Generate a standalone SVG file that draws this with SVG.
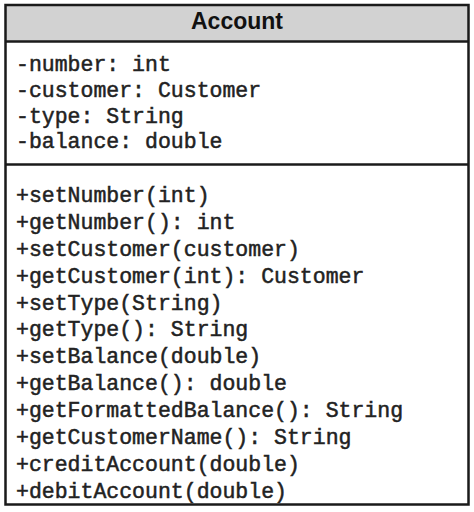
<svg xmlns="http://www.w3.org/2000/svg" width="474" height="512" viewBox="0 0 474 512">
<style>
.box{fill:none;stroke:#1a1a1a;stroke-width:2.5}
.hdr{fill:#d2d2d2;stroke:none}
.div{stroke:#1a1a1a;stroke-width:2.5}
.title{font-family:"Liberation Sans",Arial,sans-serif;font-weight:bold;font-size:23px;fill:#111;text-anchor:middle}
.m{font-family:"Liberation Mono","Courier New",monospace;font-size:21.5px;fill:#222;stroke:#222;stroke-width:0.5}
</style>
<rect width="474" height="512" fill="#ffffff"/>
<g id="Account">
<rect class="hdr" x="5.5" y="5" width="463" height="36.5"/>
<rect class="box" x="5.5" y="5" width="463" height="499.5"/>
<line class="div" x1="5.5" y1="41.5" x2="468.5" y2="41.5"/>
<line class="div" x1="5.5" y1="164.5" x2="468.5" y2="164.5"/>
<text class="title" x="237" y="29">Account</text>
<g class="m">
<text x="16" y="71">-number: int</text>
<text x="16" y="97">-customer: Customer</text>
<text x="16" y="122.5">-type: String</text>
<text x="16" y="148">-balance: double</text>
<text x="16" y="202">+setNumber(int)</text>
<text x="16" y="229">+getNumber(): int</text>
<text x="16" y="256">+setCustomer(customer)</text>
<text x="16" y="282.5">+getCustomer(int): Customer</text>
<text x="16" y="309.5">+setType(String)</text>
<text x="16" y="336">+getType(): String</text>
<text x="16" y="363">+setBalance(double)</text>
<text x="16" y="390">+getBalance(): double</text>
<text x="16" y="417">+getFormattedBalance(): String</text>
<text x="16" y="444">+getCustomerName(): String</text>
<text x="16" y="471">+creditAccount(double)</text>
<text x="16" y="498">+debitAccount(double)</text>
</g>
</g>
</svg>
